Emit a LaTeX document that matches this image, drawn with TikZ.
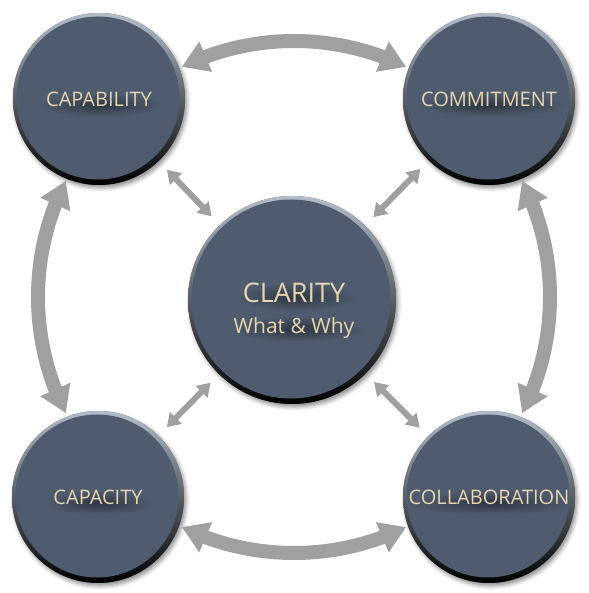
\documentclass[tikz,border=0pt]{standalone}
\usepackage{fontspec}
\setmainfont{Open Sans}
\usetikzlibrary{arrows.meta,bending,shadows.blur}
\definecolor{base}{HTML}{4F5C6F}
\definecolor{rimlight}{HTML}{B3BDCA}
\definecolor{rimdark}{HTML}{000000}
\definecolor{textc}{HTML}{E6D4AF}
\definecolor{tshadow}{HTML}{2E3642}
\definecolor{arrowc}{HTML}{A0A0A0}
\tikzset{
  ball/.style n args={2}{circle, minimum size=2*#1, inner sep=0pt, outer sep=0pt, fill=base,
    text=textc, font=\fontsize{20}{24}\selectfont,
    blur shadow={shadow xshift=2pt, shadow yshift=-3pt, shadow blur radius=4pt, shadow opacity=45},
    path picture={
      \shade[shading angle=45, top color=rimlight, middle color=base, bottom color=rimdark]
        (path picture bounding box.south west) rectangle (path picture bounding box.north east);
      \fill[base] ([shift={(-1pt,1pt)}]path picture bounding box.center) circle ({#1-4.5pt});
      \shade[inner color=tshadow, outer color=base]
        ([shift={(1.5pt,-6pt)}]path picture bounding box.center) ellipse (#2 and 12pt);
    }},
  smudge/.style={inner color=tshadow, outer color=base},
  bigarrow/.style={draw=arrowc, line width=14pt,
    {Triangle[length=26pt,width=31pt]}-{Triangle[length=26pt,width=31pt]}},
  smallarrow/.style={draw=arrowc, line width=6pt, shorten <=12pt, shorten >=12pt,
    {Triangle[length=13pt,width=16pt]}-{Triangle[length=13pt,width=16pt]}},
  labeltext/.style={text=textc, align=center}
}
\begin{document}
\begin{tikzpicture}[x=1pt,y=1pt]
\useasboundingbox (0,0) rectangle (588,593);
\coordinate (hub) at (294,296);
% nodes
\node[ball={86pt}{62pt}] (tl) at (99,494) {CAPABILITY};
\node[ball={86pt}{76pt}] (tr) at (489,494) {COMMITMENT};
\node[ball={86pt}{54pt}] (bl) at (98,96) {CAPACITY};
\node[ball={86pt}{82pt}] (br) at (489,96) {COLLABORATION};
\node[ball={104pt}{1pt}] (c) at (292,293) {};
\shade[smudge] (296,296) ellipse (60pt and 14pt);
\shade[smudge] (297,264) ellipse (68pt and 13pt);
\node[labeltext, font=\fontsize{27}{31}\selectfont] (clar) at (294,282)
  {CLARITY\\{\fontsize{21}{31}\selectfont What \& Why}};
% outer curved double arrows
\draw[bigarrow] ([shift={(116:256pt)}]hub) arc[start angle=116, end angle=64, radius=256pt];
\draw[bigarrow] ([shift={(153:256pt)}]hub) arc[start angle=153, end angle=207, radius=256pt];
\draw[bigarrow] ([shift={(27:256pt)}]hub) arc[start angle=27, end angle=-27, radius=256pt];
\draw[bigarrow] ([shift={(244:256pt)}]hub) arc[start angle=244, end angle=296, radius=256pt];
% spokes
\draw[smallarrow] (c) -- (tl);
\draw[smallarrow] (c) -- (tr);
\draw[smallarrow] (c) -- (bl);
\draw[smallarrow] (c) -- (br);
\end{tikzpicture}
\end{document}
